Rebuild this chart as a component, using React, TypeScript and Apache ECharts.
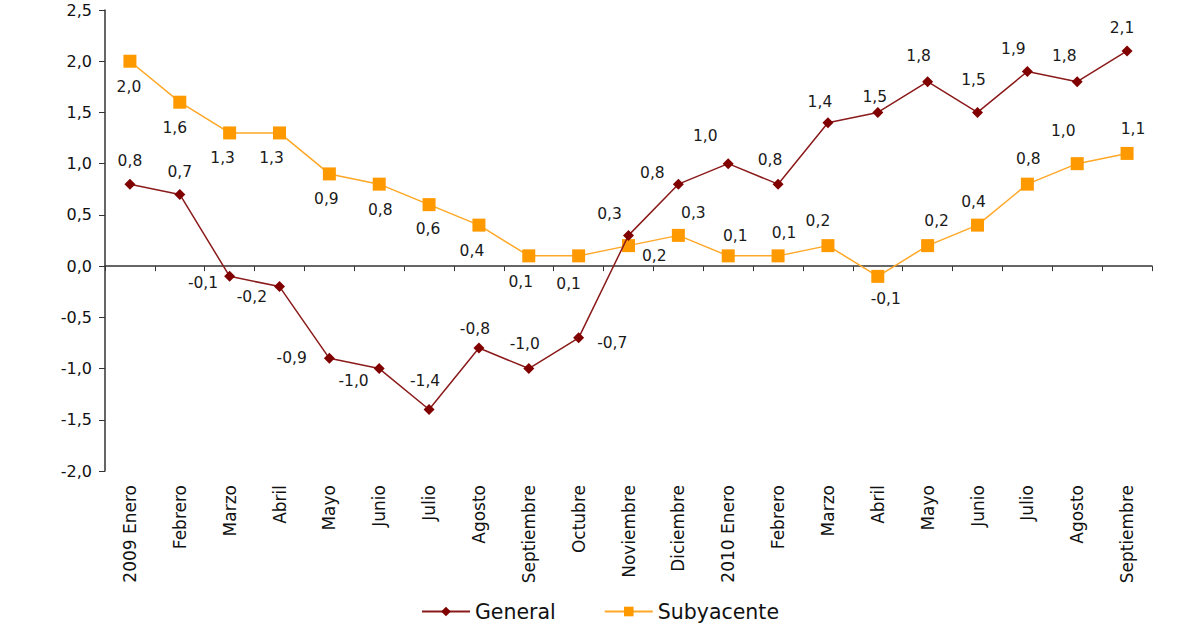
import React, { useEffect, useRef } from "react";
import * as echarts from "echarts";

const categories = [
  "2009 Enero", "Febrero", "Marzo", "Abril", "Mayo", "Junio", "Julio", "Agosto",
  "Septiembre", "Octubre", "Noviembre", "Diciembre", "2010 Enero", "Febrero",
  "Marzo", "Abril", "Mayo", "Junio", "Julio", "Agosto", "Septiembre",
];
const generalValues = [0.8, 0.7, -0.1, -0.2, -0.9, -1.0, -1.4, -0.8, -1.0, -0.7, 0.3, 0.8, 1.0, 0.8, 1.4, 1.5, 1.8, 1.5, 1.9, 1.8, 2.1];
const subyacenteValues = [2.0, 1.6, 1.3, 1.3, 0.9, 0.8, 0.6, 0.4, 0.1, 0.1, 0.2, 0.3, 0.1, 0.1, 0.2, -0.1, 0.2, 0.4, 0.8, 1.0, 1.1];

// label placement (style only): [position, dx, dy]
const generalLabelPlacement: [string, number, number][] = [
  ["top", 0, -1], ["top", 0, 0], ["left", 3, 7], ["left", 2, 10], ["left", -8, 0], ["left", 4, 12],
  ["top", -4, -6], ["top", -4, 3], ["top", -4, -2], ["right", 4, 5], ["top", -19, 1],
  ["top", -26, 11], ["top", -23, -5], ["top", -8, -2], ["top", -8, 2], ["top", -3, 7],
  ["top", -9, -3], ["top", -4, -10], ["top", -14, 0], ["top", -13, -3], ["top", -5, 0],
];
const subLabelPlacement: [string, number, number][] = [
  ["bottom", -1, 2], ["bottom", -5, 2], ["bottom", -7, 2], ["bottom", -8, 2], ["bottom", -3, 2],
  ["bottom", 1, 2], ["bottom", -1, 1], ["bottom", -7, 2], ["bottom", -8, 3], ["bottom", -10, 5],
  ["right", -2, 10], ["top", 15, 1], ["top", 7, 4], ["top", 6, 1], ["top", -10, -1],
  ["bottom", 8, -1], ["top", 9, -1], ["top", -4, 0], ["top", 1, -2], ["top", -14, -9], ["top", 6, -1],
];

const fmt = (v: number) => v.toFixed(1).replace(".", ",");
const FONT = "DejaVu Sans, Verdana, sans-serif";

export default function App() {
  const ref = useRef<HTMLDivElement>(null);
  useEffect(() => {
    document.body.style.margin = "0";
    const chart = echarts.init(ref.current!, null, { renderer: "svg" });
    const labelStyle = { fontFamily: FONT, fontSize: 15.5, color: "#1a1a1a" };
    const build = (vals: number[], place: [string, number, number][]) =>
      vals.map((v, i) => ({
        value: v,
        label: { show: true, position: place[i][0], offset: [place[i][1], place[i][2]], distance: 9, formatter: () => fmt(v), ...labelStyle },
      }));
    chart.setOption({
      animation: false,
      backgroundColor: "#ffffff",
      grid: { left: 105, right: 48, top: 10, bottom: 159, containLabel: false, outerBoundsMode: "none" },
      legend: {
        top: 601,
        left: "center",
        itemWidth: 48,
        itemHeight: 12,
        itemGap: 48,
        padding: 0,
        textStyle: { fontFamily: FONT, fontSize: 20.5, color: "#111" },
        data: ["General", "Subyacente"],
      },
      xAxis: {
        type: "category",
        data: categories,
        boundaryGap: true,
        axisLine: { onZero: true, lineStyle: { color: "#333", width: 1.5 } },
        axisTick: { show: true, length: 5, lineStyle: { color: "#333" } },
        axisLabel: {
          rotate: 90,
          margin: 14,
          interval: 0,
          fontFamily: FONT,
          fontSize: 17,
          color: "#111",
        },
        splitLine: { show: false },
      },
      yAxis: {
        type: "value",
        min: -2,
        max: 2.5,
        interval: 0.5,
        axisLine: { show: true, lineStyle: { color: "#333", width: 1.5 } },
        axisTick: { show: true, length: 6, lineStyle: { color: "#333" } },
        axisLabel: {
          formatter: (v: number) => fmt(v),
          margin: 13,
          fontFamily: FONT,
          fontSize: 16,
          color: "#111",
        },
        splitLine: { show: false },
      },
      series: [
        {
          name: "General",
          type: "line",
          data: build(generalValues, generalLabelPlacement),
          symbol: "diamond",
          symbolSize: 11,
          itemStyle: { color: "#800000" },
          lineStyle: { color: "#8b1a1a", width: 1.5 },
          z: 3,
        },
        {
          name: "Subyacente",
          type: "line",
          data: build(subyacenteValues, subLabelPlacement),
          symbol: "rect",
          symbolSize: 13,
          itemStyle: { color: "#ff9900" },
          lineStyle: { color: "#ffa726", width: 1.5 },
          z: 2,
        },
      ],
    });
    return () => chart.dispose();
  }, []);
  return <div ref={ref} style={{ width: 1200, height: 630 }} />;
}
